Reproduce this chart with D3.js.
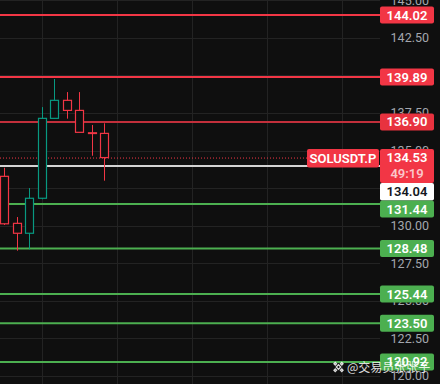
<!DOCTYPE html>
<html>
<head>
<meta charset="utf-8">
<script src="https://cdn.jsdelivr.net/npm/d3@7"></script>
<style>
  html, body { margin: 0; padding: 0; background: #0f0f0f; overflow: hidden; }
  svg { display: block; font-family: Roboto, "Noto Sans", sans-serif; }
</style>
</head>
<body>
<svg id="chart" width="440" height="384"></svg>
<script>
// candles, oldest first (only the visible ones)
var opens  = [133.28, 130.15, 129.49, 131.82, 137.14, 138.34, 137.67, 136.18, 136.14];
var highs  = [133.85, 130.57, 132.50, 137.89, 139.76, 138.89, 138.89, 136.70, 136.81];
var lows   = [130.04, 128.33, 128.42, 131.75, 137.14, 137.12, 136.21, 134.65, 132.99];
var closes = [130.12, 129.49, 131.82, 137.14, 138.34, 137.67, 136.21, 136.13, 134.53];

var resistanceLevels = [144.02, 139.89, 136.90];
var supportLevels    = [131.44, 128.48, 125.44, 123.50, 120.92];
var priceTicks = [145.00, 142.50, 140.00, 137.50, 135.00, 132.50, 130.00, 127.50, 125.00, 122.50, 120.00];

var symbol = "SOLUSDT.P";
var lastPrice = 134.53;
var countdown = "49:19";
var markPrice = 134.04;
var watermark = "@交易员张张子";

var svg = d3.select("#chart");
var paneRight = 380;

var y = d3.scaleLinear().domain([120, 145]).range([375.8, 0.3]);
var x = d3.scaleLinear().domain([0, 30]).range([4.3, 4.3 + 375]);

var red = "#f23645", green = "#4caf50", teal = "#089981";

// grid
var grid = svg.append("g");
grid.selectAll(".hg").data(priceTicks).enter().append("line")
  .attr("x1", 0).attr("x2", paneRight)
  .attr("y1", function(d){ return Math.round(y(d)) + 0.5; })
  .attr("y2", function(d){ return Math.round(y(d)) + 0.5; })
  .attr("stroke", "#232323");
grid.selectAll(".vg").data([3, 9, 15, 21, 27]).enter().append("line")
  .attr("x1", function(d){ return Math.round(x(d)) + 0.5; })
  .attr("x2", function(d){ return Math.round(x(d)) + 0.5; })
  .attr("y1", 0).attr("y2", 384)
  .attr("stroke", "#232323");

// price level lines
svg.selectAll(".res").data(resistanceLevels).enter().append("line")
  .attr("x1", 0).attr("x2", paneRight)
  .attr("y1", function(d){ return y(d); }).attr("y2", function(d){ return y(d); })
  .attr("stroke", function(d, i){ return i == 2 ? "#c22f3b" : red; })
  .attr("stroke-width", 2);
svg.selectAll(".sup").data(supportLevels).enter().append("line")
  .attr("x1", 0).attr("x2", paneRight)
  .attr("y1", function(d){ return y(d); }).attr("y2", function(d){ return y(d); })
  .attr("stroke", green)
  .attr("stroke-width", 2);

// mark price line + last price dotted line
svg.append("line")
  .attr("x1", 0).attr("x2", paneRight)
  .attr("y1", y(markPrice) + 1).attr("y2", y(markPrice) + 1)
  .attr("stroke", "#d4d4d4").attr("stroke-width", 2);
svg.append("line")
  .attr("x1", 0).attr("x2", paneRight)
  .attr("y1", y(lastPrice) + 0.5).attr("y2", y(lastPrice) + 0.5)
  .attr("stroke", red).attr("stroke-width", 1)
  .attr("stroke-dasharray", "1,2");

// candles
var candles = d3.range(opens.length).map(function(i){
  return {i: i, o: opens[i], h: highs[i], l: lows[i], c: closes[i]};
});
var cg = svg.selectAll(".candle").data(candles).enter().append("g");
cg.append("line")
  .attr("x1", function(d){ return Math.round(x(d.i)) + 0.5; })
  .attr("x2", function(d){ return Math.round(x(d.i)) + 0.5; })
  .attr("y1", function(d){ return y(d.h); })
  .attr("y2", function(d){ return y(d.l); })
  .attr("stroke", function(d){ return d.c >= d.o ? teal : red; });
cg.append("rect")
  .attr("x", function(d){ return Math.round(x(d.i)) - 3.5; })
  .attr("width", 8)
  .attr("y", function(d){ return y(Math.max(d.o, d.c)); })
  .attr("height", function(d){ return Math.max(0.6, Math.abs(y(d.o) - y(d.c))); })
  .attr("fill", function(d){ return Math.abs(d.o - d.c) < 0.1 ? red : "#0f0f0f"; })
  .attr("stroke", function(d){ return d.c >= d.o ? teal : red; })
  .attr("stroke-width", 1.2);

// tick labels on price scale
svg.selectAll(".tick").data(priceTicks).enter().append("text")
  .attr("x", 429).attr("y", function(d){ return y(d) + 4.5; })
  .attr("text-anchor", "end")
  .attr("font-size", 12.5)
  .attr("fill", "#a3a6ad")
  .text(function(d){ return d.toFixed(2); });

// price labels, pushed down when they overlap
var labels = [];
resistanceLevels.forEach(function(p, i){
  labels.push({p: p, h: 17, bg: i == 2 ? "#e8323f" : red, fg: "#fff", lines: [p.toFixed(2)]});
});
supportLevels.forEach(function(p){
  labels.push({p: p, h: 17, bg: green, fg: "#fff", lines: [p.toFixed(2)]});
});
labels.push({p: lastPrice, h: 34, bg: red, fg: "#fff", lines: [lastPrice.toFixed(2), countdown], last: true});
labels.push({p: markPrice, h: 17.5, bg: "#ffffff", fg: "#131722", lines: [markPrice.toFixed(2)]});
labels.sort(function(a, b){ return b.p - a.p; });
var prevBottom = -100;
labels.forEach(function(l){
  l.top = y(l.p) - 8.5;
  if (l.top < prevBottom) l.top = prevBottom;
  prevBottom = l.top + l.h;
});

var lg = svg.selectAll(".lab").data(labels).enter().append("g");
lg.append("rect")
  .attr("x", 380).attr("width", 54)
  .attr("y", function(d){ return d.top; })
  .attr("height", function(d){ return d.h; })
  .attr("rx", 2)
  .attr("fill", function(d){ return d.bg; });
lg.each(function(d){
  var g = d3.select(this);
  d.lines.forEach(function(t, k){
    g.append("text")
      .attr("x", 407).attr("y", d.top + 13 + k * 16)
      .attr("text-anchor", "middle")
      .attr("font-size", 13)
      .attr("font-weight", 600)
      .attr("fill", d.fg)
      .attr("fill-opacity", k == 1 ? 0.72 : 1)
      .text(t);
  });
});

// symbol tag
svg.append("rect")
  .attr("x", 307).attr("width", 72)
  .attr("y", y(lastPrice) - 8.5).attr("height", 18.5)
  .attr("rx", 2).attr("fill", red);
svg.append("text")
  .attr("x", 343).attr("y", y(lastPrice) + 5)
  .attr("text-anchor", "middle")
  .attr("font-size", 13).attr("font-weight", 600)
  .attr("fill", "#fff")
  .text(symbol);

// watermark
var wm = svg.append("g").attr("opacity", 0.85);
var logo = wm.append("g").attr("transform", "translate(338.5,367) rotate(45)");
[[0, 0, 3.2], [-4.6, 0, 1.8], [4.6, 0, 1.8], [0, -4.6, 1.8], [0, 4.6, 1.8]].forEach(function(s){
  logo.append("rect")
    .attr("x", s[0] - s[2] / 2).attr("y", s[1] - s[2] / 2)
    .attr("width", s[2]).attr("height", s[2])
    .attr("fill", "none").attr("stroke", "#fff").attr("stroke-width", 1.3);
});
wm.append("text")
  .attr("x", 347).attr("y", 371.5)
  .attr("font-size", 12)
  .attr("font-family", "'Noto Sans CJK SC', sans-serif")
  .attr("fill", "#fff")
  .text(watermark);
</script>
</body>
</html>
